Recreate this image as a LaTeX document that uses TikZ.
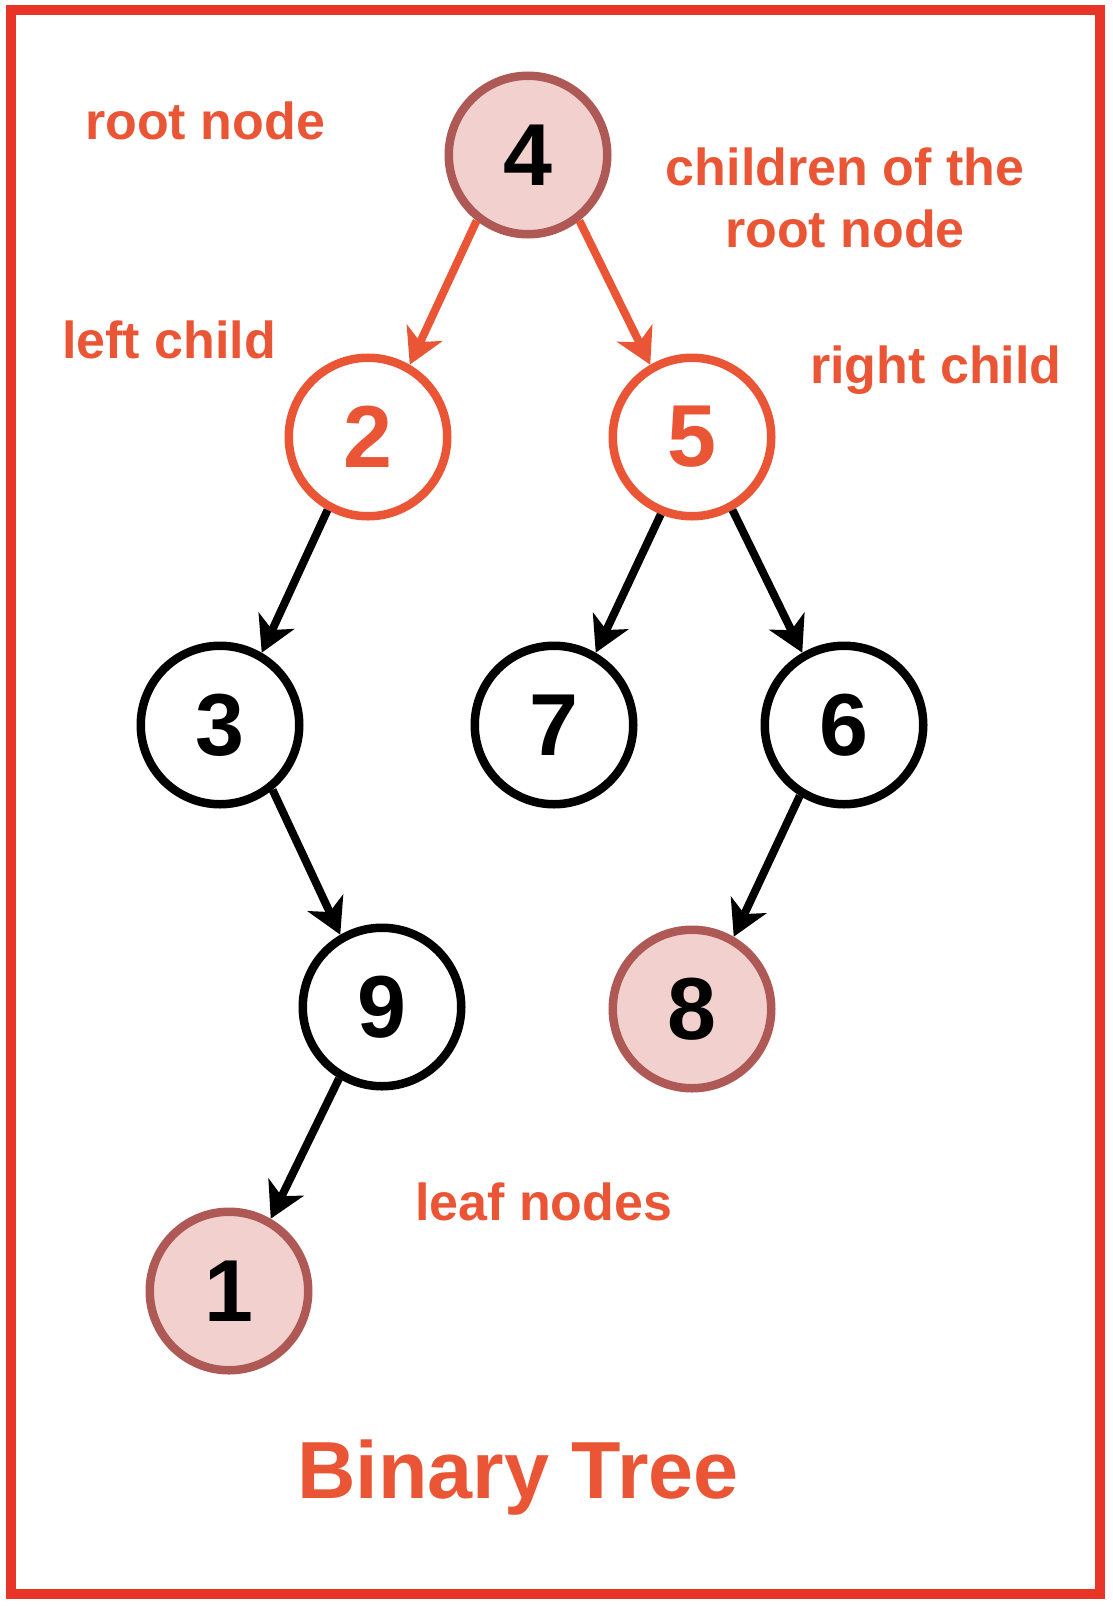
\documentclass[tikz,border=0pt]{standalone}
\usepackage{fontspec}
\setmainfont{Liberation Sans}
\usetikzlibrary{arrows.meta}
\definecolor{framered}{RGB}{232,53,39}
\definecolor{labelred}{RGB}{234,85,53}
\definecolor{rootbrown}{RGB}{174,89,85}
\definecolor{rootpink}{RGB}{242,208,206}

\begin{document}
\begin{tikzpicture}[x=1pt,y=-1pt,
    tree/.style={circle,minimum size=158.5pt,inner sep=0pt,line width=8.5pt,fill=white,
        font=\fontsize{88}{88}\selectfont\bfseries},
    plain/.style={tree,draw=black},
    kid/.style={tree,draw=labelred,text=labelred},
    shaded/.style={tree,draw=rootbrown,fill=rootpink},
    tag/.style={text=labelred,inner sep=0pt,font=\fontsize{52}{62}\selectfont\bfseries},
    link/.style={line width=8pt,-{Stealth[length=35pt,width=39pt,inset=10pt]}},
    redlink/.style={link,draw=labelred}]
    \useasboundingbox (0,0) rectangle (1112,1606);
    \draw[framered,line width=10pt] (11,10) rectangle (1100,1594);

    \node[shaded] (4) at (528,155) {4};
    \node[kid] (2) at (368,437) {2};
    \node[kid] (5) at (692,437) {5};
    \node[plain] (3) at (220,725) {3};
    \node[plain] (7) at (554,725) {7};
    \node[plain] (6) at (844,725) {6};
    \node[plain] (9) at (382,1007) {9};
    \node[shaded] (8) at (692,1009) {8};
    \node[shaded] (1) at (229,1291) {1};

    \draw[redlink] (4.232)--(2.60);
    \draw[redlink] (4.308)--(5.120);
    \draw[link] (2.241)--(3.60);
    \draw[link] (5.248)--(7.60);
    \draw[link] (5.299)--(6.120);
    \draw[link] (3.309)--(9.120);
    \draw[link] (6.238)--(8.60);
    \draw[link] (9.239)--(1.60);

    \node[tag,anchor=base west] (rootlabel) at (85,139) {root node};
    \node[tag,anchor=base] (kidsa) at (845,185) {children of the};
    \node[tag,anchor=base] (kidsb) at (845,247) {root node};
    \node[tag,anchor=base west] (leftlabel) at (62,358) {left child};
    \node[tag,anchor=base west] (rightlabel) at (810,383) {right child};
    \node[tag,anchor=base west] (leaflabel) at (415,1220) {leaf nodes};
    \node[tag,anchor=base,font=\fontsize{81}{81}\selectfont\bfseries] (title) at (518,1498) {Binary Tree};
\end{tikzpicture}
\end{document}
